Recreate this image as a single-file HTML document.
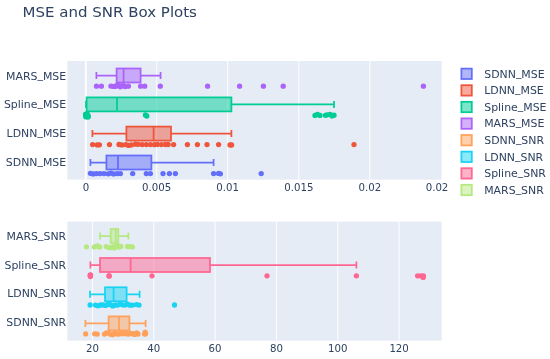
<!DOCTYPE html>
<html><head><meta charset="utf-8"><title>MSE and SNR Box Plots</title>
<style>html,body{margin:0;padding:0;background:#fff}body{width:550px;height:359px;overflow:hidden}</style></head>
<body>
<svg width="550" height="359" viewBox="0 0 550 359" style="display:block">
<rect width="550" height="359" fill="#fff"/>
<rect x="67.4" y="61.0" width="374.2" height="118.6" fill="#e5ecf6"/>
<rect x="67.4" y="221.6" width="374.2" height="119.0" fill="#e5ecf6"/>
<line x1="156.7" x2="156.7" y1="61.0" y2="179.6" stroke="#fff" stroke-width="0.9"/>
<line x1="227.7" x2="227.7" y1="61.0" y2="179.6" stroke="#fff" stroke-width="0.9"/>
<line x1="298.8" x2="298.8" y1="61.0" y2="179.6" stroke="#fff" stroke-width="0.9"/>
<line x1="369.8" x2="369.8" y1="61.0" y2="179.6" stroke="#fff" stroke-width="0.9"/>
<line x1="85.8" x2="85.8" y1="61.0" y2="179.6" stroke="#fff" stroke-width="1.75"/>
<line x1="92.5" x2="92.5" y1="221.6" y2="340.6" stroke="#fff" stroke-width="0.9"/>
<line x1="153.8" x2="153.8" y1="221.6" y2="340.6" stroke="#fff" stroke-width="0.9"/>
<line x1="215.1" x2="215.1" y1="221.6" y2="340.6" stroke="#fff" stroke-width="0.9"/>
<line x1="276.5" x2="276.5" y1="221.6" y2="340.6" stroke="#fff" stroke-width="0.9"/>
<line x1="337.8" x2="337.8" y1="221.6" y2="340.6" stroke="#fff" stroke-width="0.9"/>
<line x1="399.1" x2="399.1" y1="221.6" y2="340.6" stroke="#fff" stroke-width="0.9"/>
<g stroke="#ab63fa" stroke-width="1.75" fill="none">
<rect x="116.6" y="68.50" width="24.00" height="14.0" fill="rgba(171,99,250,0.5)"/>
<path d="M123.6,68.50V82.50M96.4,75.5H116.6M140.6,75.5H160.6M96.4,72.0V79.0M160.6,72.0V79.0"/>
</g>
<g fill="#ab63fa">
<circle cx="96.5" cy="86.2" r="2.65"/>
<circle cx="101.4" cy="86.2" r="2.65"/>
<circle cx="110.9" cy="86.1" r="2.65"/>
<circle cx="113.6" cy="86.4" r="2.65"/>
<circle cx="115.3" cy="86.4" r="2.65"/>
<circle cx="116.9" cy="85.4" r="2.65"/>
<circle cx="118.5" cy="85.3" r="2.65"/>
<circle cx="120.2" cy="86.8" r="2.65"/>
<circle cx="121.8" cy="85.8" r="2.65"/>
<circle cx="123.5" cy="85.7" r="2.65"/>
<circle cx="125.1" cy="86.6" r="2.65"/>
<circle cx="128.4" cy="86.2" r="2.65"/>
<circle cx="140.6" cy="86.2" r="2.65"/>
<circle cx="144.7" cy="86.2" r="2.65"/>
<circle cx="160.3" cy="86.2" r="2.65"/>
<circle cx="207.6" cy="86.2" r="2.65"/>
<circle cx="239.6" cy="86.2" r="2.65"/>
<circle cx="263.4" cy="86.2" r="2.65"/>
<circle cx="283.2" cy="86.2" r="2.65"/>
<circle cx="423.4" cy="86.2" r="2.65"/>
</g>
<g stroke="#00cc96" stroke-width="1.75" fill="none">
<rect x="86.6" y="97.40" width="144.80" height="14.0" fill="rgba(0,204,150,0.5)"/>
<path d="M117.0,97.40V111.40M86.0,104.4H86.6M231.4,104.4H334.0M86.0,100.9V107.9M334.0,100.9V107.9"/>
</g>
<g fill="#00cc96">
<circle cx="85.6" cy="114.2" r="2.65"/>
<circle cx="86.4" cy="116.6" r="2.65"/>
<circle cx="87.6" cy="115.0" r="2.65"/>
<circle cx="88.3" cy="116.2" r="2.65"/>
<circle cx="86.0" cy="115.4" r="2.65"/>
<circle cx="87.0" cy="114.0" r="2.65"/>
<circle cx="88.0" cy="117.0" r="2.65"/>
<circle cx="85.8" cy="116.8" r="2.65"/>
<circle cx="145.4" cy="115.0" r="2.65"/>
<circle cx="146.8" cy="116.0" r="2.65"/>
<circle cx="315.0" cy="115.4" r="2.65"/>
<circle cx="317.5" cy="114.4" r="2.65"/>
<circle cx="320.0" cy="115.4" r="2.65"/>
<circle cx="325.4" cy="115.3" r="2.65"/>
<circle cx="327.0" cy="114.8" r="2.65"/>
<circle cx="330.0" cy="114.4" r="2.65"/>
<circle cx="332.0" cy="115.9" r="2.65"/>
<circle cx="334.0" cy="115.2" r="2.65"/>
</g>
<g stroke="#ef553b" stroke-width="1.75" fill="none">
<rect x="126.4" y="126.60" width="44.60" height="14.0" fill="rgba(239,85,59,0.5)"/>
<path d="M153.6,126.60V140.60M92.4,133.6H126.4M171.0,133.6H231.4M92.4,130.1V137.1M231.4,130.1V137.1"/>
</g>
<g fill="#ef553b">
<circle cx="92.6" cy="144.6" r="2.65"/>
<circle cx="97.3" cy="144.9" r="2.65"/>
<circle cx="99.4" cy="144.8" r="2.65"/>
<circle cx="109.5" cy="144.6" r="2.65"/>
<circle cx="119.0" cy="144.5" r="2.65"/>
<circle cx="121.8" cy="144.9" r="2.65"/>
<circle cx="125.9" cy="144.6" r="2.65"/>
<circle cx="128.6" cy="145.4" r="2.65"/>
<circle cx="131.3" cy="144.9" r="2.65"/>
<circle cx="135.4" cy="144.2" r="2.65"/>
<circle cx="138.1" cy="144.3" r="2.65"/>
<circle cx="142.2" cy="144.6" r="2.65"/>
<circle cx="146.3" cy="144.6" r="2.65"/>
<circle cx="150.4" cy="144.6" r="2.65"/>
<circle cx="154.5" cy="144.7" r="2.65"/>
<circle cx="157.2" cy="144.4" r="2.65"/>
<circle cx="161.3" cy="144.6" r="2.65"/>
<circle cx="165.4" cy="144.5" r="2.65"/>
<circle cx="168.1" cy="144.5" r="2.65"/>
<circle cx="173.6" cy="144.6" r="2.65"/>
<circle cx="187.4" cy="144.6" r="2.65"/>
<circle cx="197.4" cy="144.6" r="2.65"/>
<circle cx="207.0" cy="144.6" r="2.65"/>
<circle cx="218.6" cy="144.6" r="2.65"/>
<circle cx="230.0" cy="144.9" r="2.65"/>
<circle cx="231.6" cy="145.0" r="2.65"/>
<circle cx="354.0" cy="144.6" r="2.65"/>
</g>
<g stroke="#636efa" stroke-width="1.75" fill="none">
<rect x="106.4" y="155.50" width="45.00" height="14.0" fill="rgba(99,110,250,0.5)"/>
<path d="M118.0,155.50V169.50M90.4,162.5H106.4M151.4,162.5H213.6M90.4,159.0V166.0M213.6,159.0V166.0"/>
</g>
<g fill="#636efa">
<circle cx="90.4" cy="173.3" r="2.65"/>
<circle cx="93.2" cy="173.9" r="2.65"/>
<circle cx="96.4" cy="173.6" r="2.65"/>
<circle cx="100.0" cy="173.6" r="2.65"/>
<circle cx="104.0" cy="173.6" r="2.65"/>
<circle cx="108.2" cy="173.8" r="2.65"/>
<circle cx="110.9" cy="173.1" r="2.65"/>
<circle cx="113.6" cy="173.9" r="2.65"/>
<circle cx="117.2" cy="173.6" r="2.65"/>
<circle cx="120.4" cy="173.6" r="2.65"/>
<circle cx="132.7" cy="173.6" r="2.65"/>
<circle cx="146.3" cy="173.6" r="2.65"/>
<circle cx="150.4" cy="173.6" r="2.65"/>
<circle cx="163.0" cy="173.6" r="2.65"/>
<circle cx="169.4" cy="173.6" r="2.65"/>
<circle cx="175.4" cy="173.6" r="2.65"/>
<circle cx="213.6" cy="173.6" r="2.65"/>
<circle cx="218.6" cy="173.4" r="2.65"/>
<circle cx="220.4" cy="173.8" r="2.65"/>
<circle cx="261.2" cy="173.6" r="2.65"/>
</g>
<g stroke="#b6e880" stroke-width="1.75" fill="none">
<rect x="110.7" y="229.00" width="7.60" height="14.0" fill="rgba(182,232,128,0.5)"/>
<path d="M115.9,229.00V243.00M100.0,236.0H110.7M118.3,236.0H128.4M100.0,232.5V239.5M128.4,232.5V239.5"/>
</g>
<g fill="#b6e880">
<circle cx="86.5" cy="246.8" r="2.65"/>
<circle cx="94.4" cy="246.9" r="2.65"/>
<circle cx="97.2" cy="246.0" r="2.65"/>
<circle cx="99.6" cy="247.0" r="2.65"/>
<circle cx="106.2" cy="246.6" r="2.65"/>
<circle cx="108.6" cy="247.5" r="2.65"/>
<circle cx="111.1" cy="247.7" r="2.65"/>
<circle cx="112.7" cy="246.8" r="2.65"/>
<circle cx="114.4" cy="248.1" r="2.65"/>
<circle cx="116.0" cy="246.5" r="2.65"/>
<circle cx="117.6" cy="245.7" r="2.65"/>
<circle cx="119.3" cy="247.0" r="2.65"/>
<circle cx="120.9" cy="246.4" r="2.65"/>
<circle cx="127.5" cy="246.5" r="2.65"/>
<circle cx="129.9" cy="246.6" r="2.65"/>
<circle cx="132.4" cy="246.9" r="2.65"/>
</g>
<g stroke="#ff6692" stroke-width="1.75" fill="none">
<rect x="100.0" y="258.00" width="110.00" height="14.0" fill="rgba(255,102,146,0.5)"/>
<path d="M130.6,258.00V272.00M90.4,265.0H100.0M210.0,265.0H356.4M90.4,261.5V268.5M356.4,261.5V268.5"/>
</g>
<g fill="#ff6692">
<circle cx="90.2" cy="275.2" r="2.65"/>
<circle cx="90.5" cy="275.0" r="2.65"/>
<circle cx="90.4" cy="276.5" r="2.65"/>
<circle cx="109.0" cy="275.6" r="2.65"/>
<circle cx="109.2" cy="276.2" r="2.65"/>
<circle cx="152.0" cy="275.8" r="2.65"/>
<circle cx="267.0" cy="275.8" r="2.65"/>
<circle cx="356.4" cy="275.8" r="2.65"/>
<circle cx="417.6" cy="275.8" r="2.65"/>
<circle cx="421.0" cy="275.9" r="2.65"/>
<circle cx="423.4" cy="275.9" r="2.65"/>
<circle cx="423.2" cy="277.4" r="2.65"/>
</g>
<g stroke="#19d3f3" stroke-width="1.75" fill="none">
<rect x="105.0" y="287.30" width="21.60" height="14.0" fill="rgba(25,211,243,0.5)"/>
<path d="M113.6,287.30V301.30M90.0,294.3H105.0M126.6,294.3H139.6M90.0,290.8V297.8M139.6,290.8V297.8"/>
</g>
<g fill="#19d3f3">
<circle cx="90.1" cy="305.0" r="2.65"/>
<circle cx="95.5" cy="305.1" r="2.65"/>
<circle cx="98.0" cy="305.8" r="2.65"/>
<circle cx="100.5" cy="305.0" r="2.65"/>
<circle cx="102.9" cy="304.9" r="2.65"/>
<circle cx="105.4" cy="305.4" r="2.65"/>
<circle cx="107.8" cy="304.5" r="2.65"/>
<circle cx="110.3" cy="304.6" r="2.65"/>
<circle cx="112.7" cy="305.9" r="2.65"/>
<circle cx="115.2" cy="305.0" r="2.65"/>
<circle cx="117.6" cy="305.1" r="2.65"/>
<circle cx="120.1" cy="304.1" r="2.65"/>
<circle cx="122.5" cy="304.8" r="2.65"/>
<circle cx="125.0" cy="305.1" r="2.65"/>
<circle cx="127.5" cy="304.1" r="2.65"/>
<circle cx="129.9" cy="305.2" r="2.65"/>
<circle cx="132.4" cy="305.1" r="2.65"/>
<circle cx="136.5" cy="304.6" r="2.65"/>
<circle cx="139.0" cy="305.1" r="2.65"/>
<circle cx="174.5" cy="305.0" r="2.65"/>
</g>
<g stroke="#ffa15a" stroke-width="1.75" fill="none">
<rect x="108.6" y="316.40" width="20.80" height="14.0" fill="rgba(255,161,90,0.5)"/>
<path d="M119.0,316.40V330.40M85.4,323.4H108.6M129.4,323.4H145.6M85.4,319.9V326.9M145.6,319.9V326.9"/>
</g>
<g fill="#ffa15a">
<circle cx="85.7" cy="333.9" r="2.65"/>
<circle cx="94.7" cy="333.8" r="2.65"/>
<circle cx="97.2" cy="334.1" r="2.65"/>
<circle cx="104.5" cy="334.1" r="2.65"/>
<circle cx="106.5" cy="333.0" r="2.65"/>
<circle cx="108.5" cy="333.1" r="2.65"/>
<circle cx="110.5" cy="334.2" r="2.65"/>
<circle cx="112.5" cy="334.7" r="2.65"/>
<circle cx="114.5" cy="333.5" r="2.65"/>
<circle cx="116.5" cy="333.8" r="2.65"/>
<circle cx="118.5" cy="334.1" r="2.65"/>
<circle cx="120.5" cy="333.6" r="2.65"/>
<circle cx="122.5" cy="333.7" r="2.65"/>
<circle cx="124.5" cy="333.6" r="2.65"/>
<circle cx="126.5" cy="333.7" r="2.65"/>
<circle cx="128.5" cy="334.1" r="2.65"/>
<circle cx="130.5" cy="333.5" r="2.65"/>
<circle cx="132.5" cy="333.7" r="2.65"/>
<circle cx="134.5" cy="334.4" r="2.65"/>
<circle cx="136.5" cy="333.0" r="2.65"/>
<circle cx="138.0" cy="334.0" r="2.65"/>
<circle cx="144.6" cy="334.1" r="2.65"/>
<circle cx="145.5" cy="333.7" r="2.65"/>
<circle cx="145.2" cy="332.2" r="2.65"/>
</g>
<g font-family='"DejaVu Sans", "Liberation Sans", sans-serif' fill="#2e4262">
<text transform="translate(22.6,17.1) scale(1.072,1)" font-size="14" text-anchor="start">MSE and SNR Box Plots</text>
<text transform="translate(66.2,79.6) scale(1.072,1)" font-size="10.2" text-anchor="end">MARS<tspan dy="-2">_</tspan><tspan dy="2">MSE</tspan></text>
<text transform="translate(66.2,108.1) scale(1.072,1)" font-size="10.2" text-anchor="end">Spline<tspan dy="-2">_</tspan><tspan dy="2">MSE</tspan></text>
<text transform="translate(66.2,137.1) scale(1.072,1)" font-size="10.2" text-anchor="end">LDNN<tspan dy="-2">_</tspan><tspan dy="2">MSE</tspan></text>
<text transform="translate(66.2,166.3) scale(1.072,1)" font-size="10.2" text-anchor="end">SDNN<tspan dy="-2">_</tspan><tspan dy="2">MSE</tspan></text>
<text transform="translate(66.2,240.1) scale(1.072,1)" font-size="10.2" text-anchor="end">MARS<tspan dy="-2">_</tspan><tspan dy="2">SNR</tspan></text>
<text transform="translate(66.2,268.8) scale(1.072,1)" font-size="10.2" text-anchor="end">Spline<tspan dy="-2">_</tspan><tspan dy="2">SNR</tspan></text>
<text transform="translate(66.2,297.4) scale(1.072,1)" font-size="10.2" text-anchor="end">LDNN<tspan dy="-2">_</tspan><tspan dy="2">SNR</tspan></text>
<text transform="translate(66.2,326.4) scale(1.072,1)" font-size="10.2" text-anchor="end">SDNN<tspan dy="-2">_</tspan><tspan dy="2">SNR</tspan></text>
<text transform="translate(85.9,191.2) scale(1.0,1)" font-size="10.2" text-anchor="middle">0</text>
<text transform="translate(156.7,191.2) scale(1.0,1)" font-size="10.2" text-anchor="middle">0.005</text>
<text transform="translate(227.7,191.2) scale(1.0,1)" font-size="10.2" text-anchor="middle">0.01</text>
<text transform="translate(298.8,191.2) scale(1.0,1)" font-size="10.2" text-anchor="middle">0.015</text>
<text transform="translate(369.8,191.2) scale(1.0,1)" font-size="10.2" text-anchor="middle">0.02</text>
<text transform="translate(437,191.2) scale(1.0,1)" font-size="10.2" text-anchor="middle">0.02</text>
<text transform="translate(92.5,352.1) scale(1.0,1)" font-size="10.2" text-anchor="middle">20</text>
<text transform="translate(153.8,352.1) scale(1.0,1)" font-size="10.2" text-anchor="middle">40</text>
<text transform="translate(215.1,352.1) scale(1.0,1)" font-size="10.2" text-anchor="middle">60</text>
<text transform="translate(276.5,352.1) scale(1.0,1)" font-size="10.2" text-anchor="middle">80</text>
<text transform="translate(337.8,352.1) scale(1.0,1)" font-size="10.2" text-anchor="middle">100</text>
<text transform="translate(399.1,352.1) scale(1.0,1)" font-size="10.2" text-anchor="middle">120</text>
<rect x="461.4" y="68.60" width="10.4" height="10.4" fill="rgba(99,110,250,0.5)" stroke="#636efa" stroke-width="1.75"/>
<text transform="translate(484.2,77.5) scale(1.072,1)" font-size="10.2" text-anchor="start">SDNN<tspan dy="-2">_</tspan><tspan dy="2">MSE</tspan></text>
<rect x="461.4" y="85.20" width="10.4" height="10.4" fill="rgba(239,85,59,0.5)" stroke="#ef553b" stroke-width="1.75"/>
<text transform="translate(484.2,94.1) scale(1.072,1)" font-size="10.2" text-anchor="start">LDNN<tspan dy="-2">_</tspan><tspan dy="2">MSE</tspan></text>
<rect x="461.4" y="101.80" width="10.4" height="10.4" fill="rgba(0,204,150,0.5)" stroke="#00cc96" stroke-width="1.75"/>
<text transform="translate(484.2,110.7) scale(1.072,1)" font-size="10.2" text-anchor="start">Spline<tspan dy="-2">_</tspan><tspan dy="2">MSE</tspan></text>
<rect x="461.4" y="118.40" width="10.4" height="10.4" fill="rgba(171,99,250,0.5)" stroke="#ab63fa" stroke-width="1.75"/>
<text transform="translate(484.2,127.3) scale(1.072,1)" font-size="10.2" text-anchor="start">MARS<tspan dy="-2">_</tspan><tspan dy="2">MSE</tspan></text>
<rect x="461.4" y="135.00" width="10.4" height="10.4" fill="rgba(255,161,90,0.5)" stroke="#ffa15a" stroke-width="1.75"/>
<text transform="translate(484.2,143.9) scale(1.072,1)" font-size="10.2" text-anchor="start">SDNN<tspan dy="-2">_</tspan><tspan dy="2">SNR</tspan></text>
<rect x="461.4" y="151.60" width="10.4" height="10.4" fill="rgba(25,211,243,0.5)" stroke="#19d3f3" stroke-width="1.75"/>
<text transform="translate(484.2,160.5) scale(1.072,1)" font-size="10.2" text-anchor="start">LDNN<tspan dy="-2">_</tspan><tspan dy="2">SNR</tspan></text>
<rect x="461.4" y="168.20" width="10.4" height="10.4" fill="rgba(255,102,146,0.5)" stroke="#ff6692" stroke-width="1.75"/>
<text transform="translate(484.2,177.1) scale(1.072,1)" font-size="10.2" text-anchor="start">Spline<tspan dy="-2">_</tspan><tspan dy="2">SNR</tspan></text>
<rect x="461.4" y="184.80" width="10.4" height="10.4" fill="rgba(182,232,128,0.5)" stroke="#b6e880" stroke-width="1.75"/>
<text transform="translate(484.2,193.7) scale(1.072,1)" font-size="10.2" text-anchor="start">MARS<tspan dy="-2">_</tspan><tspan dy="2">SNR</tspan></text>
</g>
</svg>
</body></html>
